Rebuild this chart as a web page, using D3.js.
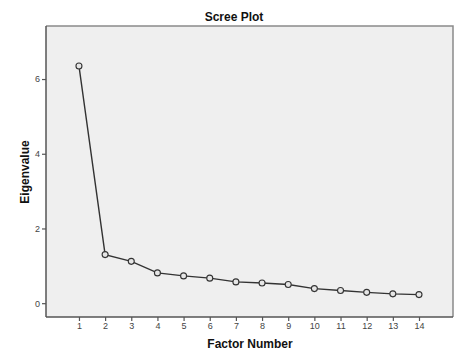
<!DOCTYPE html>
<html lang="en">
<head>
    <meta charset="UTF-8">
    <title>Scree Plot</title>
    <script src="https://d3js.org/d3.v7.min.js"></script>
    <style>
        body { margin: 0; background: #fff; }
        svg { display: block; }
        .tick text { font: 9px Arial, "Liberation Sans", sans-serif; fill: #444; }
        .title { font: bold 12px Arial, "Liberation Sans", sans-serif; fill: #111; }
        .axis-title { font: bold 12px Arial, "Liberation Sans", sans-serif; fill: #111; }
    </style>
</head>
<body>
<script>
    // Chart data
    var factors = [1, 2, 3, 4, 5, 6, 7, 8, 9, 10, 11, 12, 13, 14];
    var eigenvalues = [6.35, 1.30, 1.12, 0.81, 0.73, 0.67, 0.57, 0.54, 0.50, 0.39, 0.34, 0.29, 0.25, 0.23];
    var yTicks = [0, 2, 4, 6];

    var width = 474, height = 363;
    var plot = { left: 46, top: 26, right: 453, bottom: 317 };

    var svg = d3.select("body")
        .append("svg")
        .attr("width", width)
        .attr("height", height);

    // Scales
    var x = d3.scaleLinear()
        .domain([-0.26, 15.3])
        .range([plot.left, plot.right]);

    var y = d3.scaleLinear()
        .domain([-0.37, 7.42])
        .range([plot.bottom, plot.top]);

    // Plot background
    svg.append("rect")
        .attr("x", plot.left)
        .attr("y", plot.top)
        .attr("width", plot.right - plot.left)
        .attr("height", plot.bottom - plot.top)
        .attr("fill", "#efefef");

    // Top and right frame (lighter)
    svg.append("path")
        .attr("d", "M" + plot.left + "," + plot.top + "H" + plot.right + "V" + plot.bottom)
        .attr("fill", "none")
        .attr("stroke", "#8a8a8a")
        .attr("stroke-width", 1.5);

    // Axes
    var xAxis = svg.append("g")
        .attr("transform", "translate(0," + plot.bottom + ")")
        .call(d3.axisBottom(x).tickValues(factors).tickSize(4).tickPadding(2).tickFormat(d3.format("d")));

    var yAxis = svg.append("g")
        .attr("transform", "translate(" + plot.left + ",0)")
        .call(d3.axisLeft(y).tickValues(yTicks).tickSize(4).tickPadding(2).tickFormat(d3.format("d")));

    [xAxis, yAxis].forEach(function (a) {
        a.select(".domain").attr("stroke", "#555").attr("stroke-width", 1.5);
        a.selectAll(".tick line").attr("stroke", "#555").attr("stroke-width", 1.2);
    });
    xAxis.select(".domain").attr("d", "M" + plot.left + ",0H" + plot.right);
    yAxis.select(".domain").attr("d", "M0," + plot.top + "V" + plot.bottom);

    // Line
    var data = factors.map(function (f, i) { return { f: f, v: eigenvalues[i] }; });

    svg.append("path")
        .datum(data)
        .attr("fill", "none")
        .attr("stroke", "#333")
        .attr("stroke-width", 1.4)
        .attr("d", d3.line()
            .x(function (d) { return x(d.f); })
            .y(function (d) { return y(d.v); }));

    // Markers
    svg.selectAll(".pt")
        .data(data)
        .enter()
        .append("circle")
        .attr("class", "pt")
        .attr("cx", function (d) { return x(d.f); })
        .attr("cy", function (d) { return y(d.v); })
        .attr("r", 3)
        .attr("fill", "#e6e6e6")
        .attr("stroke", "#333")
        .attr("stroke-width", 1.1);

    // Titles
    svg.append("text")
        .attr("class", "title")
        .attr("x", 234)
        .attr("y", 21)
        .attr("text-anchor", "middle")
        .text("Scree Plot");

    svg.append("text")
        .attr("class", "axis-title")
        .attr("x", 250)
        .attr("y", 348)
        .attr("text-anchor", "middle")
        .text("Factor Number");

    svg.append("text")
        .attr("class", "axis-title")
        .attr("transform", "translate(29,172) rotate(-90)")
        .attr("text-anchor", "middle")
        .text("Eigenvalue");
</script>
</body>
</html>
